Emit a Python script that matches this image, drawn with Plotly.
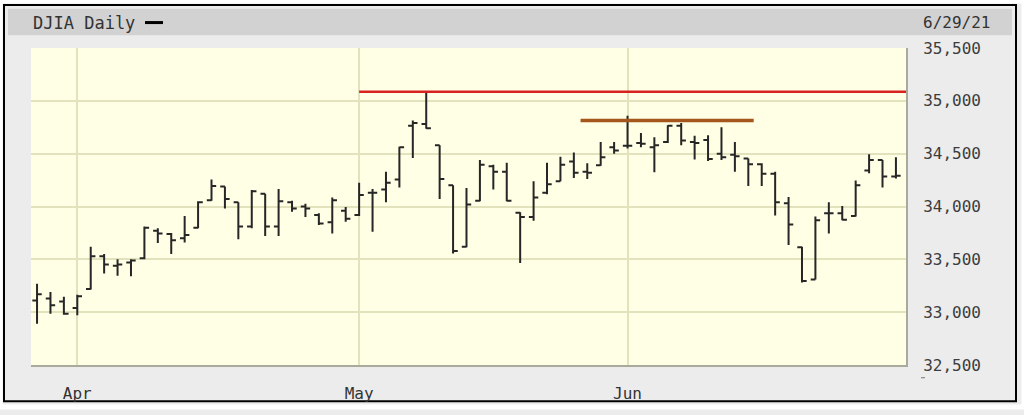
import plotly.graph_objects as go

# DJIA daily OHLC, 3/29/21 - 6/29/21
dates = [
    "2021-03-29", "2021-03-30", "2021-03-31", "2021-04-01", "2021-04-05",
    "2021-04-06", "2021-04-07", "2021-04-08", "2021-04-09", "2021-04-12",
    "2021-04-13", "2021-04-14", "2021-04-15", "2021-04-16", "2021-04-19",
    "2021-04-20", "2021-04-21", "2021-04-22", "2021-04-23", "2021-04-26",
    "2021-04-27", "2021-04-28", "2021-04-29", "2021-04-30", "2021-05-03",
    "2021-05-04", "2021-05-05", "2021-05-06", "2021-05-07", "2021-05-10",
    "2021-05-11", "2021-05-12", "2021-05-13", "2021-05-14", "2021-05-17",
    "2021-05-18", "2021-05-19", "2021-05-20", "2021-05-21", "2021-05-24",
    "2021-05-25", "2021-05-26", "2021-05-27", "2021-05-28", "2021-06-01",
    "2021-06-02", "2021-06-03", "2021-06-04", "2021-06-07", "2021-06-08",
    "2021-06-09", "2021-06-10", "2021-06-11", "2021-06-14", "2021-06-15",
    "2021-06-16", "2021-06-17", "2021-06-18", "2021-06-21", "2021-06-22",
    "2021-06-23", "2021-06-24", "2021-06-25", "2021-06-28", "2021-06-29",
]
opens = [
    33110, 33130, 33100, 33040, 33220, 33530, 33440, 33470, 33510, 33770,
    33740, 33700, 33800, 34060, 34190, 34040, 33810, 34120, 33810, 34040,
    34000, 33920, 33850, 33960, 33920, 34130, 34160, 34255, 34765, 34780,
    34580, 34200, 33620, 34055, 34380, 34330, 33940, 33900, 34130, 34240,
    34425, 34330, 34390, 34560, 34575, 34600, 34560, 34610, 34765, 34610,
    34630, 34500, 34490, 34455, 34400, 34310, 34030, 33615, 33310, 33935,
    33935, 33910, 34340, 34440, 34285,
]
highs = [
    33270, 33190, 33145, 33165, 33620, 33550, 33500, 33500, 33810, 33795,
    33750, 33910, 34050, 34255, 34190, 34040, 34155, 34120, 34165, 34055,
    34025, 33935, 34085, 33995, 34225, 34165, 34330, 34565, 34815, 35085,
    34580, 34200, 34175, 34440, 34395, 34415, 33945, 34240, 34415, 34470,
    34510, 34410, 34610, 34610, 34860, 34695, 34655, 34770, 34790, 34670,
    34675, 34750, 34610, 34455, 34410, 34330, 34090, 33620, 33905, 34040,
    34005, 34245, 34495, 34440, 34465,
]
lows = [
    32890, 32985, 32975, 32970, 33215, 33365, 33345, 33340, 33500, 33655,
    33550, 33660, 33795, 34055, 33980, 33690, 33795, 33720, 33720, 33950,
    33900, 33825, 33745, 33855, 33910, 33760, 34040, 34180, 34460, 34735,
    34070, 33555, 33615, 34050, 34160, 34050, 33465, 33865, 34115, 34240,
    34270, 34260, 34385, 34500, 34550, 34560, 34325, 34600, 34580, 34445,
    34430, 34440, 34330, 34195, 34195, 33915, 33635, 33280, 33310, 33745,
    33870, 33905, 34315, 34180, 34265,
]
closes = [
    33170, 33065, 32985, 33150, 33530, 33450, 33450, 33490, 33800, 33745,
    33680, 33730, 34040, 34195, 34070, 33810, 34145, 33810, 34050, 33980,
    33980, 33840, 34060, 33885, 34110, 34130, 34225, 34560, 34790, 34740,
    34260, 33580, 34020, 34395, 34330, 34055, 33900, 34085, 34210, 34395,
    34320, 34320, 34465, 34530, 34575, 34595, 34580, 34765, 34625, 34600,
    34450, 34465, 34475, 34400, 34310, 34040, 33830, 33295, 33870, 33935,
    33875, 34200, 34440, 34285, 34290,
]

month_ticks = ["2021-04-01", "2021-05-03", "2021-06-01"]
month_labels = ["Apr", "May", "Jun"]

# horizontal resistance lines drawn on the chart
red_level = 35085
red_start = "2021-05-03"
brown_level = 34815
brown_start = "2021-05-26"
brown_end = "2021-06-14"

# plot box in pixels (1024x415 page)
L, R, T, B = 31, 906, 48, 372
x_lo, x_hi = -0.45, len(dates) - 1 + 0.75


def px_x(p):
    return (p - L) / (R - L)


def px_y(p):
    return (B - p) / (B - T)


fig = go.Figure(go.Ohlc(
    x=dates, open=opens, high=highs, low=lows, close=closes,
    increasing=dict(line=dict(color='#262626', width=2)),
    decreasing=dict(line=dict(color='#262626', width=2)),
    tickwidth=0.35,
    hoverinfo='skip',
    showlegend=False,
))

shapes = [
    # white margin round the panel
    dict(type='rect', xref='paper', yref='paper', layer='below',
         x0=px_x(0), x1=px_x(1024), y0=px_y(415), y1=px_y(0),
         fillcolor='rgba(0,0,0,0)', line=dict(color='white', width=5)),
    # black frame
    dict(type='rect', xref='paper', yref='paper', layer='below',
         x0=px_x(4), x1=px_x(1016), y0=px_y(409), y1=px_y(4),
         fillcolor='rgba(0,0,0,0)', line=dict(color='black', width=2)),
    # title strip
    dict(type='rect', xref='paper', yref='paper', layer='below',
         x0=px_x(8), x1=px_x(1012), y0=px_y(35), y1=px_y(8),
         fillcolor='#d2d2d2', line=dict(width=0)),
    # legend dash
    dict(type='line', xref='paper', yref='paper',
         x0=px_x(145), x1=px_x(163), y0=px_y(22), y1=px_y(22),
         line=dict(color='black', width=3)),
    # small mark under the last price label
    dict(type='line', xref='paper', yref='paper',
         x0=px_x(921), x1=px_x(925), y0=px_y(385), y1=px_y(385),
         line=dict(color='#777777', width=1)),
    # red resistance
    dict(type='line', xref='x', yref='y',
         x0=dates.index(red_start), x1=x_hi, y0=red_level, y1=red_level,
         line=dict(color='#d8221f', width=2.5)),
    # brown resistance
    dict(type='line', xref='x', yref='y',
         x0=dates.index(brown_start) - 0.5, x1=dates.index(brown_end) + 0.4,
         y0=brown_level, y1=brown_level,
         line=dict(color='#a5561c', width=3.5)),
]

annotations = [
    dict(text='DJIA Daily', xref='paper', yref='paper', x=px_x(31), y=px_y(22),
         xanchor='left', yanchor='middle', showarrow=False,
         font=dict(family='DejaVu Sans Mono', size=17, color='#333333')),
    dict(text='6/29/21', xref='paper', yref='paper', x=px_x(992), y=px_y(22),
         xanchor='right', yanchor='middle', showarrow=False,
         font=dict(family='DejaVu Sans Mono', size=16, color='#333333')),
]

fig.update_layout(
    width=1024, height=415,
    margin=dict(l=L, r=1024 - R, t=T, b=415 - B, pad=0),
    paper_bgcolor='#ececec',
    plot_bgcolor='#ffffe6',
    shapes=shapes,
    annotations=annotations,
    xaxis=dict(
        type='category', range=[x_lo, x_hi],
        rangeslider=dict(visible=False),
        tickmode='array', tickvals=month_ticks, ticktext=month_labels,
        showgrid=True, gridcolor='#e2e2bc', gridwidth=2,
        showline=True, linecolor='#a9a99c', linewidth=2,
        ticks='', ticklabelstandoff=13,
        tickfont=dict(family='DejaVu Sans Mono', size=16, color='#333333'),
        fixedrange=True,
    ),
    yaxis=dict(
        side='right', range=[32500, 35500], dtick=500, tickformat=',',
        showgrid=True, gridcolor='#e2e2bc', gridwidth=2, zeroline=False,
        showline=True, linecolor='#a9a99c', linewidth=2,
        ticks='', ticklabelstandoff=12,
        tickfont=dict(family='DejaVu Sans Mono', size=16, color='#3c3c3c'),
        fixedrange=True,
    ),
)

fig.write_html("out.html", config=dict(displayModeBar=False),
               post_script="document.body.style.margin='0';")
